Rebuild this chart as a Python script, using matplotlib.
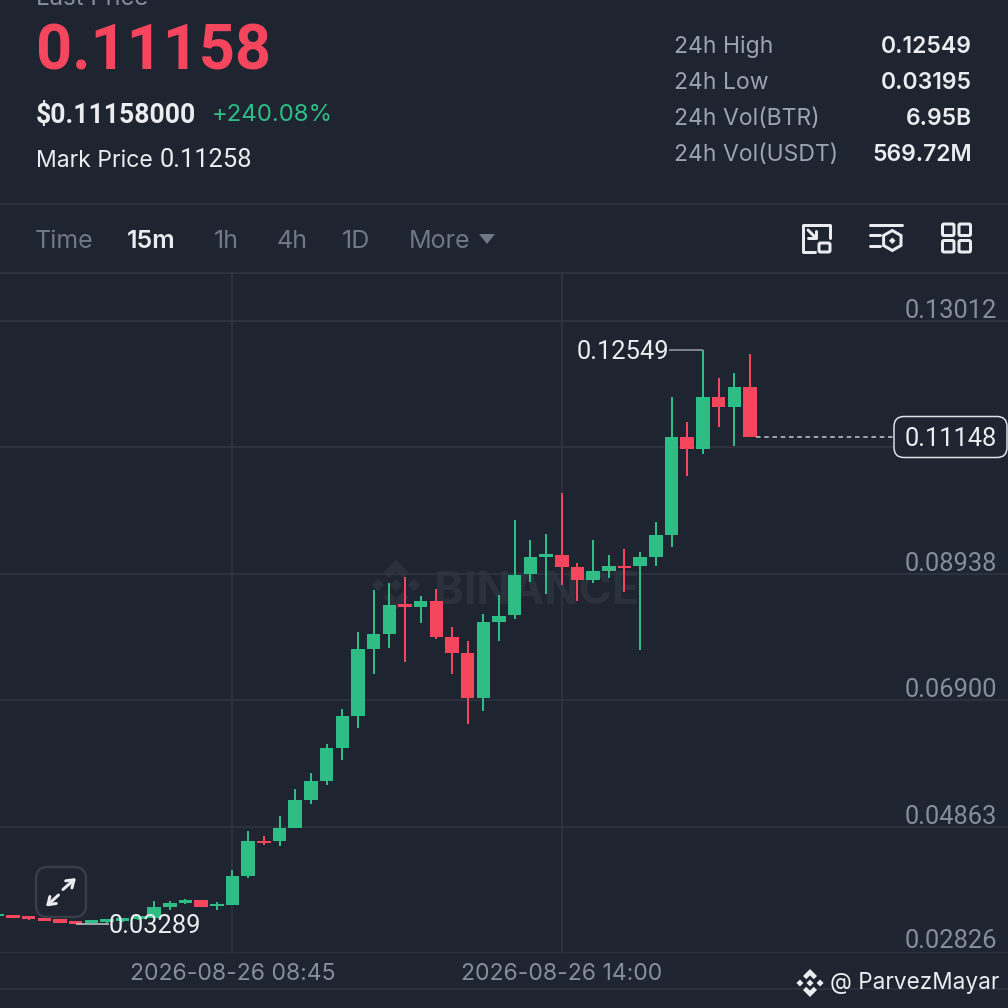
import matplotlib
matplotlib.use("Agg")
import matplotlib.pyplot as plt
from matplotlib.patches import FancyBboxPatch, Polygon

plt.rcParams['font.family'] = ['Inter', 'DejaVu Sans']

# candles, oldest first. index 15 is the 08:45 candle, index 36 the 14:00 one
opens = [0.03415, 0.03436, 0.03415, 0.03394, 0.03367, 0.03342, 0.03310, 0.03318, 0.03335, 0.03367,
         0.03391, 0.03573, 0.03637, 0.03676, 0.03584, 0.03605, 0.04073, 0.04637, 0.04627, 0.04846,
         0.05293, 0.05604, 0.06135, 0.06651, 0.07731, 0.07968, 0.08446, 0.08403, 0.08500, 0.07924,
         0.07662, 0.06936, 0.08166, 0.08269, 0.08935, 0.09209, 0.09241, 0.09052, 0.08833, 0.08983,
         0.09064, 0.09064, 0.09209, 0.09558, 0.11148, 0.10954, 0.11792, 0.11631, 0.11944]
closes = [0.03452, 0.03388, 0.03367, 0.03346, 0.03310, 0.03289, 0.03359, 0.03367, 0.03383, 0.03415,
          0.03568, 0.03637, 0.03681, 0.03573, 0.03616, 0.04073, 0.04632, 0.04595, 0.04846, 0.05293,
          0.05599, 0.06135, 0.06651, 0.07731, 0.07968, 0.08435, 0.08403, 0.08500, 0.07924, 0.07662,
          0.06932, 0.08161, 0.08263, 0.08919, 0.09209, 0.09252, 0.09052, 0.08833, 0.08983, 0.09064,
          0.09027, 0.09204, 0.09558, 0.11148, 0.10954, 0.11787, 0.11631, 0.11944, 0.11148]
highs = [0.03455, 0.03438, 0.03417, 0.03396, 0.03369, 0.03344, 0.03361, 0.03369, 0.03385, 0.03417,
         0.03670, 0.03665, 0.03702, 0.03676, 0.03649, 0.04164, 0.04798, 0.04712, 0.05035, 0.05475,
         0.05723, 0.06195, 0.06759, 0.07995, 0.08677, 0.08794, 0.08886, 0.08580, 0.08688, 0.08081,
         0.07855, 0.08295, 0.08592, 0.09800, 0.09478, 0.09575, 0.10235, 0.09117, 0.09478, 0.09241,
         0.09338, 0.09289, 0.09773, 0.11787, 0.11384, 0.12549, 0.12089, 0.12174, 0.12480]
lows = [0.03413, 0.03386, 0.03365, 0.03344, 0.03308, 0.03289, 0.03308, 0.03316, 0.03333, 0.03365,
        0.03375, 0.03520, 0.03616, 0.03573, 0.03520, 0.03605, 0.04036, 0.04567, 0.04556, 0.04846,
        0.05228, 0.05529, 0.05932, 0.06458, 0.07328, 0.07737, 0.07517, 0.08150, 0.07882, 0.07328,
        0.06522, 0.06732, 0.07855, 0.08205, 0.08806, 0.08608, 0.08757, 0.08504, 0.08790, 0.08875,
        0.08645, 0.07715, 0.09069, 0.09375, 0.10519, 0.10874, 0.11309, 0.11002, 0.11138]
first_index = -15  # candle offset from the 08:45 gridline

grid_prices = [0.13012, 0.10975, 0.08938, 0.06900, 0.04863, 0.02826]
price_labels = ["0.13012", None, "0.08938", "0.06900", "0.04863", "0.02826"]
time_ticks = [0, 21]
time_labels = ["2026-08-26 08:45", "2026-08-26 14:00"]
price_high = 0.12549
price_low = 0.03289
price_last = 0.11148

stat_names = ["24h High", "24h Low", "24h Vol(BTR)", "24h Vol(USDT)"]
stat_values = ["0.12549", "0.03195", "6.95B", "569.72M"]
tab_names = ["Time", "15m", "1h", "4h", "1D", "More"]

BG = "#1e2530"
GRID = "#303742"
GREEN = "#2ebd85"
RED = "#f6465d"
WHITE = "#eaecef"
GREY = "#848e9c"
NUM = ['Roboto', 'DejaVu Sans']  # the digits in the app are all one width, Inter's 1 is narrow
S = 1008
PX = 0.72  # pixels to points


def binance_logo(ax, cx, cy, r, color, zorder=3):
    # five pieces of the diamond logo, y axis of ax points down
    pieces = [
        [(0, -.25), (.25, 0), (0, .25), (-.25, 0)],
        [(-.72, -.25), (-.47, 0), (-.72, .25), (-.97, 0)],
        [(.72, -.25), (.97, 0), (.72, .25), (.47, 0)],
        [(0, -1), (.5, -.5), (.27, -.27), (0, -.54), (-.27, -.27), (-.5, -.5)],
        [(0, 1), (.5, .5), (.27, .27), (0, .54), (-.27, .27), (-.5, .5)],
    ]
    for p in pieces:
        ax.add_patch(Polygon([(cx + r * a, cy + r * b) for a, b in p], closed=True,
                             fc=color, ec="none", zorder=zorder))


fig = plt.figure(figsize=(S / 100, S / 100), dpi=100, facecolor=BG)

# background layer in pixel coordinates
ui = fig.add_axes([0, 0, 1, 1], zorder=0)
ui.set_xlim(0, S)
ui.set_ylim(S, 0)
ui.axis("off")
ui.text(36, -1, "Last Price", color=GREY, fontsize=24 * PX, va="center")
ui.text(36, 53, "0.11158", color=RED, fontsize=63 * PX, fontweight="bold", family=NUM, va="center")
ui.text(36, 115, "$0.11158000", color=WHITE, fontsize=26.5 * PX, fontweight="bold", family=NUM, va="center")
ui.text(212, 115, "+240.08%", color=GREEN, fontsize=24 * PX, va="center")
ui.text(36, 161, "Mark Price", color=WHITE, fontsize=23 * PX, va="center")
ui.text(160, 160, "0.11258", color=WHITE, fontsize=25.5 * PX, family=NUM, va="center")
for y, name, val in zip([47, 83, 119, 155], stat_names, stat_values):
    ui.text(674, y, name, color="#9aa3b0", fontsize=23 * PX, va="center")
    ui.text(972, y, val, color=WHITE, fontsize=23 * PX, fontweight="semibold", va="center", ha="right")

for y in [204, 273, 989]:
    ui.plot([0, S], [y, y], color=GRID, lw=1.5 * PX)

for x, name in zip([35, 127, 214, 277, 342, 409], tab_names):
    active = name == "15m"
    ui.text(x, 241, name, color=WHITE if active else "#6f7885", fontsize=25 * PX,
            fontweight="semibold" if active else "normal", va="center")
ui.add_patch(Polygon([(479, 234), (495, 234), (487, 244)], closed=True, fc="#6f7885", ec="none"))

# toolbar icons
ic = dict(color=WHITE, lw=3 * PX, solid_capstyle="round", solid_joinstyle="round")
ui.plot([815, 802.5, 802.5, 830, 830, ], [251.5, 251.5, 224.5, 224.5, 238], **ic)
ui.add_patch(FancyBboxPatch((819, 243), 11, 9, boxstyle="round,pad=0,rounding_size=1.5", fc="none", ec=WHITE, lw=3 * PX))
ui.plot([808, 816], [230, 238], **ic)
ui.plot([816, 816, 808], [231, 238, 238], **ic)
ui.plot([870, 902], [224.7, 224.7], **ic)
ui.plot([870, 880], [234.7, 234.7], **ic)
ui.plot([870, 880], [245.7, 245.7], **ic)
ui.add_patch(Polygon([(892.3, 230.5), (901, 235.5), (901, 245.5), (892.3, 250.5), (883.6, 245.5), (883.6, 235.5)],
                     closed=True, fc="none", ec=WHITE, lw=3 * PX))
ui.add_patch(Polygon([(892.3, 237.5), (895.5, 240.7), (892.3, 244), (889, 240.7)], closed=True, fc=WHITE, ec="none"))
for x in [942.5, 959]:
    for y in [224, 240.5]:
        ui.add_patch(FancyBboxPatch((x, y), 11.5, 11.5, boxstyle="round,pad=0,rounding_size=1.5",
                                    fc="none", ec=WHITE, lw=3 * PX))

# watermark sits under the candles
binance_logo(ui, 396, 585, 25, "#2a313c", zorder=1)
ui.text(537, 592, "BINANCE", color="#2a313c", fontsize=45 * PX, fontweight="bold", ha="center", va="center")

# chart layer: x in candles from the 08:45 gridline, y in price
step = 15.68
x0 = 232.5
px_per_price = 6205.0
chart_top, chart_bottom = 273, 953
ax = fig.add_axes([0, 1 - chart_bottom / S, 1, (chart_bottom - chart_top) / S], zorder=1)
ax.patch.set_alpha(0)
ax.set_xlim(-x0 / step, (S - x0) / step)
ax.set_ylim(grid_prices[-1], grid_prices[0] + (321 - chart_top) / px_per_price)
for sp in ax.spines.values():
    sp.set_visible(False)
ax.set_yticks(grid_prices)
ax.set_yticklabels([])
ax.set_xticks(time_ticks)
ax.set_xticklabels(time_labels)
ax.tick_params(length=0)
ax.tick_params(axis="x", colors=GREY, labelsize=23 * PX, pad=7.2)
ax.grid(True, color=GRID, lw=1.5 * PX)
ax.set_axisbelow(True)

for n, (o, c, h, l) in enumerate(zip(opens, closes, highs, lows)):
    i = first_index + n
    col = GREEN if c >= o else RED
    ax.vlines(i, l, h, color=col, lw=2 * PX, zorder=3)
    ax.bar(i, abs(c - o), bottom=min(o, c), width=0.86, color=col, lw=0, zorder=3)

for p, lab in zip(grid_prices, price_labels):
    if lab is None:
        continue
    ax.annotate(lab, (1, p), xycoords=ax.get_yaxis_transform(), xytext=(-11 * PX, (5 if p == grid_prices[-1] else 3) * PX),
                textcoords="offset points", ha="right", va="baseline", color=GREY, fontsize=25.5 * PX, family=NUM)

# high, low and last price marks
ax.hlines(price_high, 27.85, 30, color="#9aa0a8", lw=1.5 * PX, zorder=4)
ax.text(27.85, price_high - 2 / px_per_price, "0.12549", color=WHITE, fontsize=25.5 * PX, family=NUM, ha="right", va="center", zorder=5)
ax.hlines(price_low, -10, -7.87, color="#c8ccd2", lw=1.5 * PX, zorder=4)
ax.text(-7.87, price_low - 2 / px_per_price, "0.03289", color=WHITE, fontsize=25.5 * PX, family=NUM, ha="left", va="center", zorder=5)
ax.hlines(price_last, 33.4, 42.2, color="#c8ccd2", lw=1.5 * PX, linestyles=(0, (3, 2.5)), zorder=4)

# things floating above the chart
top = fig.add_axes([0, 0, 1, 1], zorder=2)
top.patch.set_alpha(0)
top.set_xlim(0, S)
top.set_ylim(S, 0)
top.axis("off")
top.add_patch(FancyBboxPatch((894, 416.5), 113, 41, boxstyle="round,pad=0,rounding_size=10",
                             fc=BG, ec="#dfe2e6", lw=1.5 * PX))
top.text(997, 438.5, "0.11148", color=WHITE, fontsize=25.5 * PX, family=NUM, ha="right", va="center")
top.add_patch(FancyBboxPatch((36, 867), 50, 50, boxstyle="round,pad=0,rounding_size=12",
                             fc="none", ec="#373e49", lw=2.5 * PX))
for a, b in [((63, 889.5), (76, 878)), ((58.5, 895), (46, 906.5))]:
    top.annotate("", xy=b, xytext=a, arrowprops=dict(arrowstyle="->,head_length=0.5,head_width=0.34", color=WHITE, lw=3 * PX, shrinkA=0, shrinkB=0))
binance_logo(top, 810, 983, 14, WHITE)
top.text(830, 983, "@ ParvezMayar", color=WHITE, fontsize=22.6 * PX, va="center")

fig.savefig("out.png", dpi=100, facecolor=BG)
